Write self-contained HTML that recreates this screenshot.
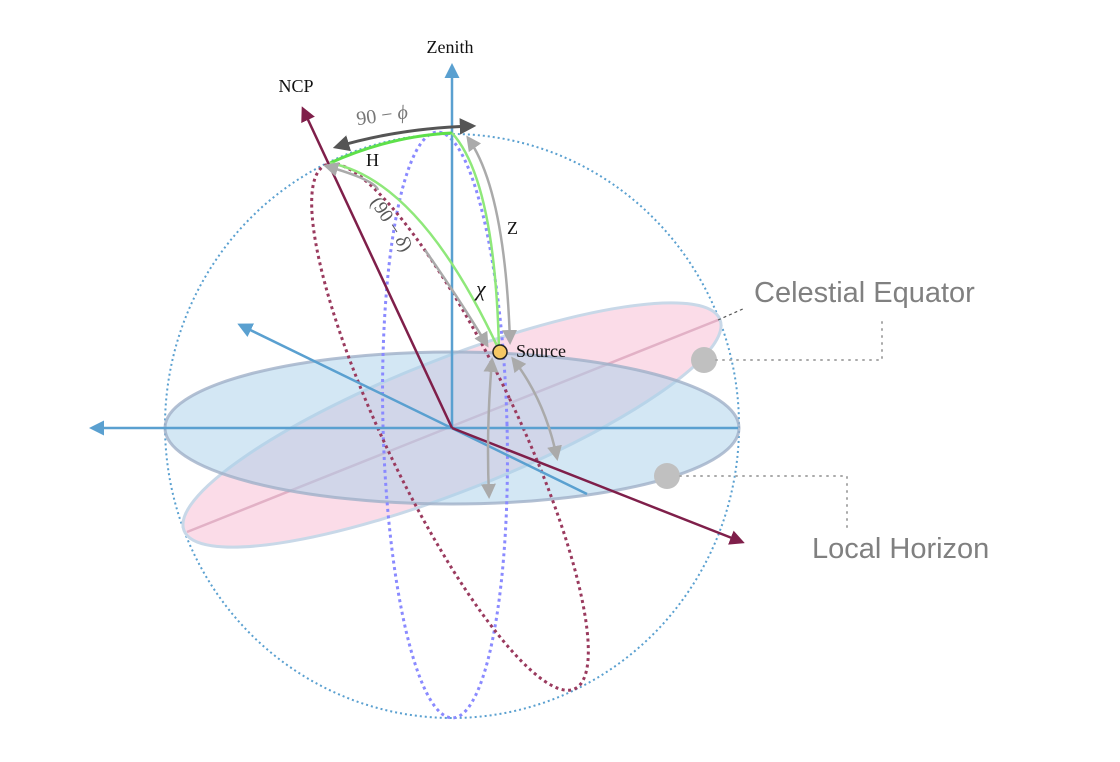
<!DOCTYPE html>
<html><head><meta charset="utf-8"><style>html,body{margin:0;padding:0;background:#fff}svg{display:block}</style></head>
<body>
<svg width="1120" height="762" viewBox="0 0 1120 762" xmlns="http://www.w3.org/2000/svg" font-family="Liberation Serif, serif">
<defs>
<marker id="ab" viewBox="0 0 10 10" refX="8" refY="5" markerWidth="6" markerHeight="6" orient="auto-start-reverse"><path d="M0,0L10,5L0,10z" fill="#5aa0d0"/></marker>
<marker id="am" viewBox="0 0 10 10" refX="8" refY="5" markerWidth="6" markerHeight="6" orient="auto-start-reverse"><path d="M0,0L10,5L0,10z" fill="#7f1f4a"/></marker>
<marker id="ag" viewBox="0 0 10 10" refX="8" refY="5" markerWidth="6" markerHeight="6" orient="auto-start-reverse"><path d="M0,0L10,5L0,10z" fill="#aaa"/></marker>
<marker id="ad" viewBox="0 0 10 10" refX="8" refY="5" markerWidth="5.5" markerHeight="5.5" orient="auto-start-reverse"><path d="M0,0L10,5L0,10z" fill="#555"/></marker>
</defs>
<ellipse cx="452" cy="426" rx="287" ry="292" fill="none" stroke="#5aa0d0" stroke-width="2" stroke-dasharray="2,3"/>
<ellipse cx="452" cy="425" rx="288" ry="66" transform="rotate(-21.5 452 425)" fill="#f8c0d6" fill-opacity="0.55" stroke="#c8d8e8" stroke-width="3"/>
<line x1="187" y1="532" x2="718" y2="320" stroke="#d8a0b8" stroke-width="2.5" opacity="0.7"/>
<line x1="718" y1="320" x2="745" y2="308" stroke="#555" stroke-width="1.2" stroke-dasharray="3,3"/>
<ellipse cx="452" cy="428" rx="287" ry="76" fill="#a8cfea" fill-opacity="0.5" stroke="#a0b0c8" stroke-width="3" stroke-opacity="0.8"/>
<ellipse cx="445" cy="425" rx="62" ry="293" transform="rotate(-1.5 445 425)" fill="none" stroke="#8a8aff" stroke-width="3" stroke-dasharray="3,3.5"/>
<ellipse cx="450" cy="427" rx="66" ry="290" transform="rotate(-25.5 450 427)" fill="none" stroke="#9a3a5e" stroke-width="3" stroke-dasharray="3,3.5"/>
<line x1="738" y1="428" x2="92" y2="428" stroke="#5aa0d0" stroke-width="2.5" marker-end="url(#ab)"/>
<line x1="452" y1="428" x2="452" y2="66" stroke="#5aa0d0" stroke-width="2.5" marker-end="url(#ab)"/>
<line x1="587" y1="494" x2="240" y2="325" stroke="#5aa0d0" stroke-width="2.5" marker-end="url(#ab)"/>
<line x1="452" y1="428" x2="303" y2="109" stroke="#7f1f4a" stroke-width="2.5" marker-end="url(#am)"/>
<line x1="452" y1="428" x2="742" y2="542" stroke="#7f1f4a" stroke-width="2.5" marker-end="url(#am)"/>
<path d="M330,163 Q390,136 452,133" fill="none" stroke="#5ee04a" stroke-width="3"/>
<path d="M452,133 Q495,180 499,350" fill="none" stroke="#8fe87a" stroke-width="2.5"/>
<path d="M330,163 Q420,180 499,350" fill="none" stroke="#8fe87a" stroke-width="2.5"/>
<path d="M336,147 Q400,128 473,126" fill="none" stroke="#555" stroke-width="3" marker-start="url(#ad)" marker-end="url(#ad)"/>
<path d="M468,138 Q505,190 510,342" fill="none" stroke="#aaa" stroke-width="2.5" marker-start="url(#ag)" marker-end="url(#ag)"/>
<path d="M326,166 Q375,180 378,190" fill="none" stroke="#aaa" stroke-width="2.5" marker-start="url(#ag)"/>
<path d="M425,250 Q460,300 487,345" fill="none" stroke="#aaa" stroke-width="2.5" marker-end="url(#ag)"/>
<path d="M492,360 Q486,430 489,496" fill="none" stroke="#aaa" stroke-width="2.5" marker-start="url(#ag)" marker-end="url(#ag)"/>
<path d="M513,359 Q545,400 557,458" fill="none" stroke="#aaa" stroke-width="2.5" marker-start="url(#ag)" marker-end="url(#ag)"/>
<circle cx="500" cy="352" r="7" fill="#f5c865" stroke="#222" stroke-width="1.5"/>
<circle cx="704" cy="360" r="13" fill="#c0c0c0"/>
<circle cx="667" cy="476" r="13" fill="#c0c0c0"/>
<path d="M716,360 H882 V318" fill="none" stroke="#aaa" stroke-width="2" stroke-dasharray="1,6" stroke-linecap="round"/>
<path d="M680,476 H847 V530" fill="none" stroke="#aaa" stroke-width="2" stroke-dasharray="1,6" stroke-linecap="round"/>
<text x="450" y="53" font-size="18" text-anchor="middle" fill="#111">Zenith</text>
<text x="296" y="92" font-size="18" text-anchor="middle" fill="#111">NCP</text>
<text x="356" y="122" font-size="20" fill="#777" transform="rotate(-8 380 114)">90 − <tspan font-style="italic">ϕ</tspan></text>
<text x="366" y="166" font-size="18" fill="#111">H</text>
<text x="507" y="234" font-size="18" fill="#111">Z</text>
<text x="476" y="296" font-size="22" font-style="italic" fill="#111">χ</text>
<text x="370" y="202" font-size="19" fill="#555" transform="rotate(57 370 202)">(90 − <tspan font-style="italic">δ</tspan>)</text>
<text x="516" y="357" font-size="18" fill="#111">Source</text>
<text x="754" y="302" font-size="29" font-family="Liberation Sans, sans-serif" fill="#808080">Celestial Equator</text>
<text x="812" y="558" font-size="29" font-family="Liberation Sans, sans-serif" fill="#808080">Local Horizon</text>
</svg>
</body></html>
